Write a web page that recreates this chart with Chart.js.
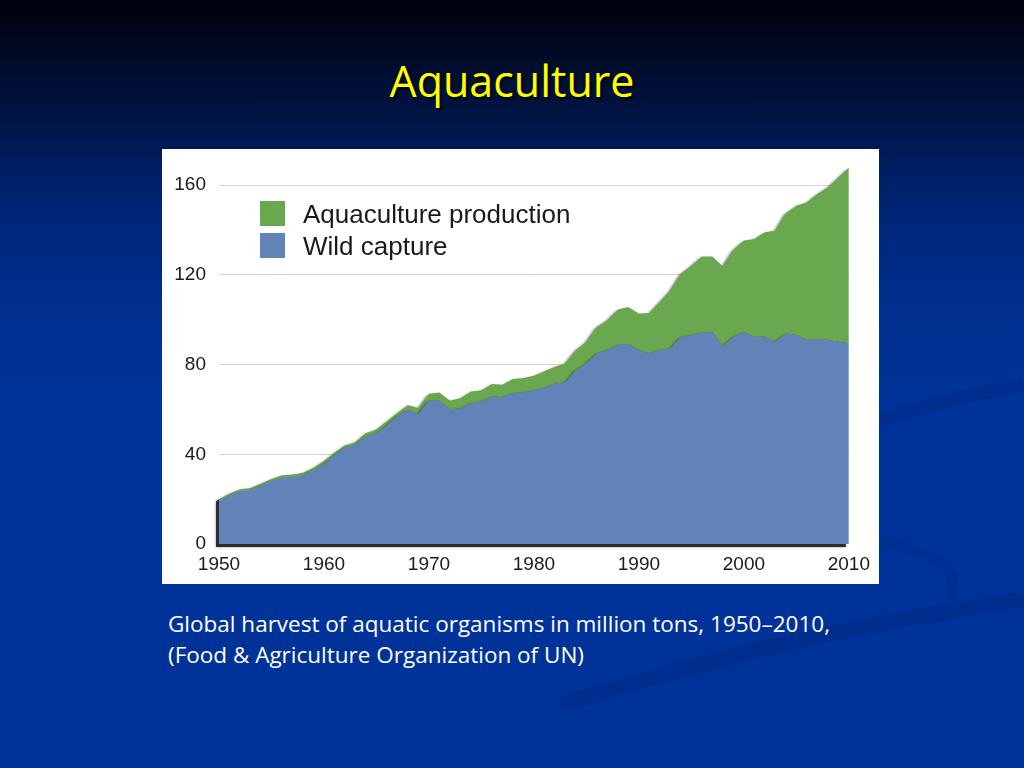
<!DOCTYPE html>
<html>
<head>
<meta charset="utf-8">
<script src="https://cdn.jsdelivr.net/npm/chart.js@4.4.1/dist/chart.umd.min.js"></script>
<style>
  html, body { margin: 0; padding: 0; }
  body {
    width: 1024px; height: 768px; overflow: hidden; position: relative;
    background: linear-gradient(to bottom, #00000c 0px, #00081f 40px, #001546 120px, #002473 200px, #002e8c 290px, #003399 400px, #003399 768px);
  }
  #deco { position: absolute; left: 0; top: 0; width: 1024px; height: 768px; }
  #title {
    position: absolute; left: 0; width: 1024px; top: 59px; text-align: center;
    font-family: "Open Sans", sans-serif; font-size: 43px; line-height: 43px;
    color: #ffff00; text-shadow: 2px 2px 2px #000000;
  }
  #panel {
    position: absolute; left: 162px; top: 149px; width: 717px; height: 435px; background: #ffffff;
  }
  #chart { position: absolute; left: 0; top: 0; }
  .leg { position: absolute; left: 98px; font-family: "Liberation Sans", Arial, sans-serif; font-size: 26px; color: #1a1a1a; line-height: 26px; }
  .sw { position: absolute; width: 25px; height: 25px; left: 0; }
  .lt { position: absolute; left: 43px; white-space: nowrap; }
  #caption {
    position: absolute; left: 168px; top: 608px;
    font-family: "Open Sans", sans-serif; font-size: 22.5px; line-height: 31px; color: #ffffff;
    white-space: nowrap;
  }
</style>
</head>
<body>
<svg id="deco" viewBox="0 0 1024 768">
  <path d="M 880 420 Q 960 395 1024 385" stroke="rgba(0,20,90,0.15)" stroke-width="14" fill="none"/>
  <path d="M 560 705 Q 800 630 1024 600" stroke="rgba(0,20,90,0.15)" stroke-width="16" fill="none"/>
  <path d="M 880 540 Q 970 560 950 600" stroke="rgba(0,20,90,0.12)" stroke-width="10" fill="none"/>
</svg>
<div id="title">Aquaculture</div>
<div id="panel">
  <canvas id="chart" width="717" height="435"></canvas>
  <div class="leg" style="top:52px;"><div class="sw" style="background:#6aa84f;"></div><div class="lt" style="top:0px;">Aquaculture production</div></div>
  <div class="leg" style="top:84px;"><div class="sw" style="background:#6283b8;"></div><div class="lt" style="top:0px;">Wild capture</div></div>
</div>
<div id="caption">Global harvest of aquatic organisms in million tons, 1950–2010,<br>(Food &amp; Agriculture Organization of UN)</div>
<script>
const years = [];
for (let y = 1950; y <= 2010; y++) years.push(String(y));

const wildCapture = [
  19.5, 21.5, 23.5, 24.0, 26.0, 28.0, 29.5, 30.0, 30.5, 33.0,
  35.5, 39.5, 43.0, 44.4, 48.0, 49.5, 52.8, 57.0, 60.0, 58.0,
  64.0, 64.0, 60.0, 60.5, 62.8, 63.5, 65.8, 65.5, 67.3, 67.5,
  68.5, 69.5, 71.5, 72.0, 77.6, 80.5, 85.0, 86.5, 88.7, 89.2,
  86.5, 85.0, 86.5, 87.2, 92.4, 93.2, 94.2, 94.6, 88.0, 92.4,
  94.6, 92.4, 92.4, 90.2, 93.9, 93.2, 91.0, 91.0, 91.0, 90.2,
  89.5
];

const aquacultureProduction = [
  0.5, 1.0, 0.9, 1.0, 1.0, 1.0, 1.1, 1.0, 1.3, 1.0,
  1.5, 1.2, 1.0, 1.0, 1.5, 1.5, 1.9, 1.4, 2.0, 2.6,
  3.0, 3.5, 4.0, 4.5, 5.2, 5.0, 5.5, 5.5, 6.2, 6.5,
  6.5, 7.5, 7.5, 8.6, 8.9, 9.7, 11.9, 13.3, 15.8, 16.5,
  16.3, 18.0, 21.5, 25.8, 28.1, 31.0, 34.0, 33.6, 35.8, 38.8,
  40.7, 43.6, 46.6, 49.5, 53.5, 57.6, 61.3, 65.0, 68.0, 73.2,
  78.3
];

const yTicks = [0, 40, 80, 120, 160];
const xTickYears = ['1950', '1960', '1970', '1980', '1990', '2000', '2010'];

const shadowPlugin = {
  id: 'areaShadow',
  beforeDatasetsDraw(chart) {
    const ctx = chart.ctx;
    const xs = chart.scales.x, ys = chart.scales.y;
    const x0 = xs.getPixelForValue(0);
    const x1 = xs.getPixelForValue(years.length - 1);
    const yb = ys.getPixelForValue(0);
    const yt = ys.getPixelForValue(wildCapture[0] + aquacultureProduction[0]);
    // drop shadow along the left and bottom edges of the stacked areas
    ctx.save();
    ctx.fillStyle = 'rgba(20,20,25,0.85)';
    ctx.shadowColor = 'rgba(0,0,0,0.5)';
    ctx.shadowBlur = 3;
    ctx.beginPath();
    ctx.moveTo(x0 - 3, yt + 2);
    ctx.lineTo(x0, yt);
    ctx.lineTo(x0, yb);
    ctx.lineTo(x1 - 3, yb);
    ctx.lineTo(x1 - 3, yb + 3);
    ctx.lineTo(x0 - 3, yb + 3);
    ctx.closePath();
    ctx.fill();
    ctx.restore();
    ctx.save();
    ctx.shadowColor = 'rgba(0,0,0,0.65)';
    ctx.shadowBlur = 3;
    ctx.shadowOffsetX = -2;
    ctx.shadowOffsetY = 2;
  },
  afterDatasetsDraw(chart) {
    chart.ctx.restore();
  }
};

new Chart(document.getElementById('chart'), {
  type: 'line',
  data: {
    labels: years,
    datasets: [
      {
        label: 'Wild capture',
        data: wildCapture,
        backgroundColor: '#6283b8',
        borderWidth: 0,
        borderColor: 'rgba(0,0,0,0)',
        pointRadius: 0,
        fill: 'origin',
        tension: 0
      },
      {
        label: 'Aquaculture production',
        data: aquacultureProduction,
        backgroundColor: '#6aa84f',
        borderWidth: 0,
        borderColor: 'rgba(0,0,0,0)',
        pointRadius: 0,
        fill: '-1',
        tension: 0
      }
    ]
  },
  options: {
    responsive: false,
    animation: false,
    devicePixelRatio: 1,
    layout: { padding: { left: 0, right: 30, top: 0, bottom: 0 } },
    plugins: {
      legend: { display: false },
      tooltip: { enabled: false },
      filler: { propagate: false }
    },
    scales: {
      x: {
        type: 'category',
        offset: false,
        grid: { display: false, drawTicks: false },
        border: { display: false },
        afterFit(s) { s.height = 40; },
        ticks: {
          autoSkip: false,
          maxRotation: 0,
          padding: 9,
          color: '#1a1a1a',
          font: { family: '"Liberation Sans", Arial, sans-serif', size: 19 },
          callback(v, i) { const l = years[i]; return xTickYears.includes(l) ? l : null; }
        }
      },
      y: {
        stacked: true,
        min: 0,
        max: 171,
        afterFit(s) { s.width = 57; },
        afterBuildTicks(s) { s.ticks = yTicks.map(v => ({ value: v })); },
        grid: {
          drawTicks: true,
          tickLength: 13,
          tickColor: 'rgba(0,0,0,0)',
          color(c) { return c.tick && c.tick.value === 0 ? 'rgba(0,0,0,0)' : '#d4d4d4'; },
          lineWidth: 1
        },
        border: { display: false },
        ticks: {
          padding: 0,
          color: '#1a1a1a',
          font: { family: '"Liberation Sans", Arial, sans-serif', size: 19 }
        }
      }
    }
  },
  plugins: [shadowPlugin]
});
</script>
</body>
</html>
